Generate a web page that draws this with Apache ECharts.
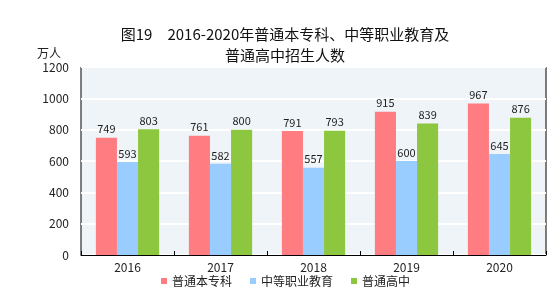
<!DOCTYPE html>
<html>
<head>
<meta charset="utf-8">
<script src="https://cdn.jsdelivr.net/npm/echarts@6/dist/echarts.min.js"></script>
<style>
  html, body { margin: 0; padding: 0; background: #fff; }
  #chart { width: 550px; height: 294px; }
</style>
</head>
<body>
<div id="chart"></div>
<script>
// 年份
var years = ['2016', '2017', '2018', '2019', '2020'];
// 招生人数（万人）
var benzhuanke = [749, 761, 791, 915, 967];
var zhongzhi = [593, 582, 557, 600, 645];
var gaozhong = [803, 800, 793, 839, 876];
var seriesNames = ['普通本专科', '中等职业教育', '普通高中'];
var colors = ['#FF7C80', '#99CCFF', '#8DC63F'];

window.onload = function () {
    var chart = echarts.init(document.getElementById('chart'));
    var font = '"Noto Sans CJK SC", sans-serif';

    function bar(name, data, color) {
        return {
            name: name,
            type: 'bar',
            data: data,
            barGap: '0%',
            barCategoryGap: '32%',
            itemStyle: { color: color },
            label: {
                show: true,
                position: 'top',
                distance: 3,
                color: '#222',
                fontSize: 11,
                fontFamily: font
            }
        };
    }

    var option = {
        animation: false,
        textStyle: { fontFamily: font },
        title: {
            text: '图19　2016-2020年普通本专科、中等职业教育及\n普通高中招生人数',
            left: 280,
            top: 19,
            textAlign: 'center',
            textStyle: { fontSize: 15, fontWeight: 'normal', color: '#111', lineHeight: 21, fontFamily: font }
        },
        legend: {
            bottom: 2,
            left: 156,
            itemWidth: 6,
            itemHeight: 6,
            itemGap: 18,
            icon: 'rect',
            textStyle: { fontSize: 12, color: '#222', fontFamily: font },
            data: seriesNames
        },
        grid: {
            left: 81,
            right: 4,
            top: 67,
            bottom: 39,
            show: true,
            backgroundColor: '#EEF4F8',
            borderColor: '#000',
            borderWidth: 1
        },
        xAxis: {
            type: 'category',
            data: years,
            axisLine: { lineStyle: { color: '#000' } },
            axisTick: { show: true, inside: true, length: 4, lineStyle: { color: '#000' } },
            axisLabel: { fontSize: 12, color: '#222', margin: 6 }
        },
        yAxis: {
            type: 'value',
            name: '万人',
            nameLocation: 'end',
            nameGap: 8,
            nameTextStyle: { fontSize: 12, color: '#222', align: 'right', padding: [0, 20, 0, 0] },
            min: 0,
            max: 1200,
            interval: 200,
            axisLine: { show: false },
            axisTick: { show: false },
            axisLabel: { fontSize: 12, color: '#222', margin: 12, formatter: function (v) { return String(v); } },
            splitLine: { lineStyle: { color: '#fff', width: 2 } }
        },
        series: [
            bar(seriesNames[0], benzhuanke, colors[0]),
            bar(seriesNames[1], zhongzhi, colors[1]),
            bar(seriesNames[2], gaozhong, colors[2])
        ]
    };

    chart.setOption(option);
};
</script>
</body>
</html>
